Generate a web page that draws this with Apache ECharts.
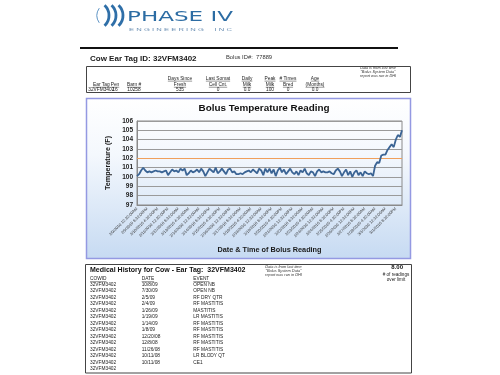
<!DOCTYPE html>
<html><head><meta charset="utf-8">
<script src="https://cdn.jsdelivr.net/npm/echarts@6/dist/echarts.min.js"></script>
<style>html,body{margin:0;padding:0;background:#fff}#c{width:500px;height:375px}</style>
</head><body><div id="c"></div>
<script>
// ---------- data ----------
const cowTag = '32VFM3402';
const bolusId = '77889';
const tableHeaders = [['Ear Tag'],['Pen'],['Barn #'],['Days Since','Fresh'],['Last Somat','Cell Cnt.'],['Daily','Milk'],['Peak','Milk'],['# Times','Bred'],['Age','(Months)']];
const tableRow = ['32VFM3402','16','10258','535','0','0.0','100','0','0.0'];
const limitTemp = 102;
const tickLabels = [
 '2/9/2010 12:32:00AM','2/9/2010 8:32:00PM','2/10/2010 4:32:00PM','2/11/2010 12:32:00PM','2/12/2010 8:32:00AM',
 '2/13/2010 4:32:00AM','2/14/2010 12:32:00AM','2/14/2010 8:32:00PM','2/15/2010 4:32:00PM','2/16/2010 12:32:00PM',
 '2/17/2010 8:32:00AM','2/18/2010 4:32:00AM','2/19/2010 12:32:00AM','2/19/2010 8:32:00PM','2/20/2010 4:32:00PM',
 '2/21/2010 12:32:00PM','2/22/2010 8:32:00AM','2/23/2010 4:32:00AM','2/24/2010 12:32:00AM','2/24/2010 8:32:00PM',
 '2/25/2010 4:32:00PM','2/26/2010 12:32:00PM','2/27/2010 8:32:00AM','2/28/2010 4:32:00AM','3/1/2010 12:32:00AM',
 '3/1/2010 8:32:00PM'];
const temps = [
 100.1,100.3,100.7,101.0,100.7,100.5,100.6,100.5,100.6,100.7,100.6,
 100.6,100.5,100.6,100.7,100.2,100.5,100.8,100.6,100.7,100.5,
 100.9,100.7,100.9,100.2,100.4,100.7,100.5,100.6,100.8,100.5,
 100.9,100.6,100.1,100.5,100.9,100.7,100.5,101.0,100.4,100.6,
 100.9,100.6,100.3,100.8,100.9,100.5,100.6,100.3,100.3,100.4,
 100.3,100.5,100.6,100.7,100.5,100.8,100.6,100.4,100.9,100.7,
 100.2,100.9,100.5,100.9,100.4,100.8,100.1,100.7,101.0,100.5,
 100.8,100.3,100.6,100.9,100.5,100.3,100.6,100.2,100.7,100.5,
 100.9,100.4,100.2,100.6,100.5,100.1,100.6,100.8,100.5,100.6,
 100.5,100.5,100.6,100.4,100.3,100.7,100.9,100.6,100.1,100.5,
 100.8,100.2,100.6,100.0,100.5,100.7,100.2,100.5,100.1,100.6,100.4,100.3,
 100.4,100.1,101.2,101.6,101.5,102.3,102.4,102.4,102.9,103.2,103.5,103.2,104.0,104.5,104.3,105.0];
const medCowIds = ['32VFM3402','32VFM3402','32VFM3402','32VFM3402','32VFM3402','32VFM3402','32VFM3402','32VFM3402','32VFM3402','32VFM3402','32VFM3402','32VFM3402','32VFM3402','32VFM3402'];
const medDates = ['10/8/09','7/30/09','2/5/09','2/4/09','1/26/09','1/19/09','1/14/09','1/8/09','12/20/08','12/8/08','11/26/08','10/11/08','10/11/08',''];
const medEvents = ['OPEN NB','OPEN NB','RF DRY QTR','RF MASTITIS','MASTITIS','LR MASTITIS','RF MASTITIS','RF MASTITIS','RF MASTITIS','RF MASTITIS','RF MASTITIS','LR BLODY QT','CE1',''];
const overLimit = '8.00';
const noteLines = ['Data is from last time','"Bolus System Data"','report was run in DHI'];

// ---------- helpers ----------
const FF = '"Liberation Sans", Arial, sans-serif';
const mctx = document.createElement('canvas').getContext('2d');
function measure(t, size, weight, fam){ mctx.font = (weight||'normal')+' '+size+'px '+(fam||FF); return mctx.measureText(t).width; }
function T(x, y, text, size, o){
  o = o || {};
  const st = {text:text, fontSize:size, fontFamily:o.fam||FF, fontWeight:o.weight||'normal', fontStyle:o.style||'normal',
    fill:o.color||'#1a1a1a', align:o.align||'left', verticalAlign:'middle', textAlign:o.align||'left', textVerticalAlign:'middle'};
  const el = {type:'text', x:x, y:y, style:st, silent:true};
  if (o.scaleX){ el.scaleX = o.scaleX; }
  return el;
}
function underline(x, y, text, size, align, weight){
  const w = measure(text, size, weight);
  let x0 = x; if (align==='center') x0 = x - w/2; else if (align==='right') x0 = x - w;
  return {type:'line', silent:true, shape:{x1:x0, y1:y+size*0.55, x2:x0+w, y2:y+size*0.55}, style:{stroke:'#333', lineWidth:0.5}};
}

const g = [];
// logo
[95,102,109].forEach(cx => g.push({type:'arc', silent:true, shape:{cx:cx, cy:15.5, r:14, startAngle:-0.82, endAngle:0.82},
  style:{stroke:'#2f6fa8', lineWidth:2.8, fill:null}}));
g.push({type:'arc', silent:true, shape:{cx:110, cy:15.5, r:13, startAngle:Math.PI-0.6, endAngle:Math.PI+0.6}, style:{stroke:'#5d93c4', lineWidth:1, fill:null}});
const logoTxt = 'PHASE IV';
g.push(T(127, 17.5, logoTxt, 14, {fam:'"DejaVu Sans"', color:'#2c6ca3', scaleX:106/measure(logoTxt,14,'normal','"DejaVu Sans"')}));
const engTxt = 'E N G I N E E R I N G     I N C';
g.push(T(129, 29.5, engTxt, 3.6, {color:'#6b8fb3', scaleX:103/measure(engTxt,3.6)}));
// rule
g.push({type:'rect', silent:true, shape:{x:80, y:47, width:318, height:2}, style:{fill:'#111'}});
// header
g.push(T(90, 58.5, 'Cow Ear Tag ID: ' + cowTag, 8, {weight:'bold'}));
g.push(T(226, 57.5, 'Bolus ID#:  ' + bolusId, 5.8, {color:'#333'}));
// table 1
g.push({type:'rect', silent:true, shape:{x:86.5, y:66.5, width:324, height:26}, style:{fill:'none', stroke:'#444', lineWidth:1}});
const colX = [101.3,115,134,180,218,247,270,288,315];
tableHeaders.forEach((lines, i) => {
  const ys = lines.length === 2 ? [78.5, 84.6] : [84.6];
  lines.forEach((ln, j) => {
    g.push(T(colX[i], ys[j], ln, 4.8, {align:'center', color:'#222'}));
    g.push(underline(colX[i], ys[j], ln, 4.8, 'center'));
  });
  g.push(T(colX[i], 89.9, tableRow[i], 4.8, {align:'center', color:'#222'}));
});
noteLines.forEach((ln, j) => g.push(T(378, 68.3 + j*3.6, ln, 3.8, {align:'center', style:'italic', color:'#333'})));
// chart box
g.push({type:'rect', silent:true, z:-10, shape:{x:86.5, y:98.5, width:324, height:160},
  style:{fill:new echarts.graphic.LinearGradient(0,0,0,1,[{offset:0,color:'#ffffff'},{offset:0.35,color:'#f4f8fd'},{offset:1,color:'#c6daf2'}]), stroke:'#9499e2', lineWidth:1.5}});
g.push(T(264, 108.5, 'Bolus Temperature Reading', 9.9, {align:'center', weight:'bold', color:'#111'}));
// medical history
g.push({type:'rect', silent:true, shape:{x:85.5, y:264.5, width:326, height:108.5}, style:{fill:'none', stroke:'#444', lineWidth:1}});
g.push(T(90, 270.5, 'Medical History for Cow - Ear Tag:  ' + cowTag, 7, {weight:'bold', color:'#111'}));
[['COWID',90],['DATE',141.7],['EVENT',193.3]].forEach(h => { g.push(T(h[1], 279, h[0], 4.8, {color:'#222'})); g.push(underline(h[1], 279, h[0], 4.8, 'left')); });
medCowIds.forEach((id, i) => {
  const y = 284.2 + i*6.51;
  g.push(T(90, y, id, 4.8, {color:'#222'}));
  g.push(T(141.7, y, medDates[i], 4.8, {color:'#222'}));
  g.push(T(193.3, y, medEvents[i], 4.8, {color:'#222'}));
});
noteLines.forEach((ln, j) => g.push(T(283.5, 266.8 + j*4.3, ln, 3.9, {align:'center', style:'italic', color:'#333'})));
g.push(T(403, 267.3, overLimit, 6, {align:'right', weight:'bold', color:'#111'}));
g.push(T(396, 275, '# of readings', 4.6, {align:'center', color:'#222'}));
g.push(T(396, 279.6, 'over limit', 4.6, {align:'center', color:'#222'}));

const chart = echarts.init(document.getElementById('c'), null, {renderer:'canvas'});
chart.setOption({
  animation:false,
  graphic:{elements:g},
  grid:{left:137, right:98, top:121, bottom:170, show:true, borderColor:'#8a8a8a', borderWidth:1, backgroundColor:'transparent'},
  xAxis:{type:'value', min:0, max:temps.length-1, interval:5,
    axisLine:{show:true, lineStyle:{color:'#8a8a8a'}}, axisTick:{show:false}, splitLine:{show:false},
    axisLabel:{rotate:45, fontSize:4, color:'#333', margin:3, fontFamily:FF, showMaxLabel:false, hideOverlap:false,
      formatter: v => (v % 5 === 0 && tickLabels[v/5]) ? tickLabels[v/5] : ''},
    name:'Date & Time of Bolus Reading', nameLocation:'middle', nameGap:41,
    nameTextStyle:{fontSize:7.3, fontWeight:'bold', color:'#1a1a1a', fontFamily:FF}},
  yAxis:{type:'value', min:97, max:106, interval:1,
    axisLine:{show:true, lineStyle:{color:'#8a8a8a'}}, axisTick:{show:false},
    splitLine:{lineStyle:{color:'#9a9a9a', width:1}},
    axisLabel:{fontSize:6.5, fontWeight:'bold', color:'#222', margin:4, fontFamily:FF},
    name:'Temperature (F)', nameLocation:'middle', nameGap:25,
    nameTextStyle:{fontSize:7.2, fontWeight:'bold', color:'#1a1a1a', fontFamily:FF}},
  series:[{type:'line', data:temps.map((v,i)=>[i,v]), showSymbol:false, symbol:'none',
    lineStyle:{color:'#3b6494', width:1.8}, z:5,
    markLine:{silent:true, symbol:'none', label:{show:false}, lineStyle:{color:'#f0a05c', width:1.2, type:'solid'}, data:[{yAxis:limitTemp}]}}]
});
</script></body></html>
